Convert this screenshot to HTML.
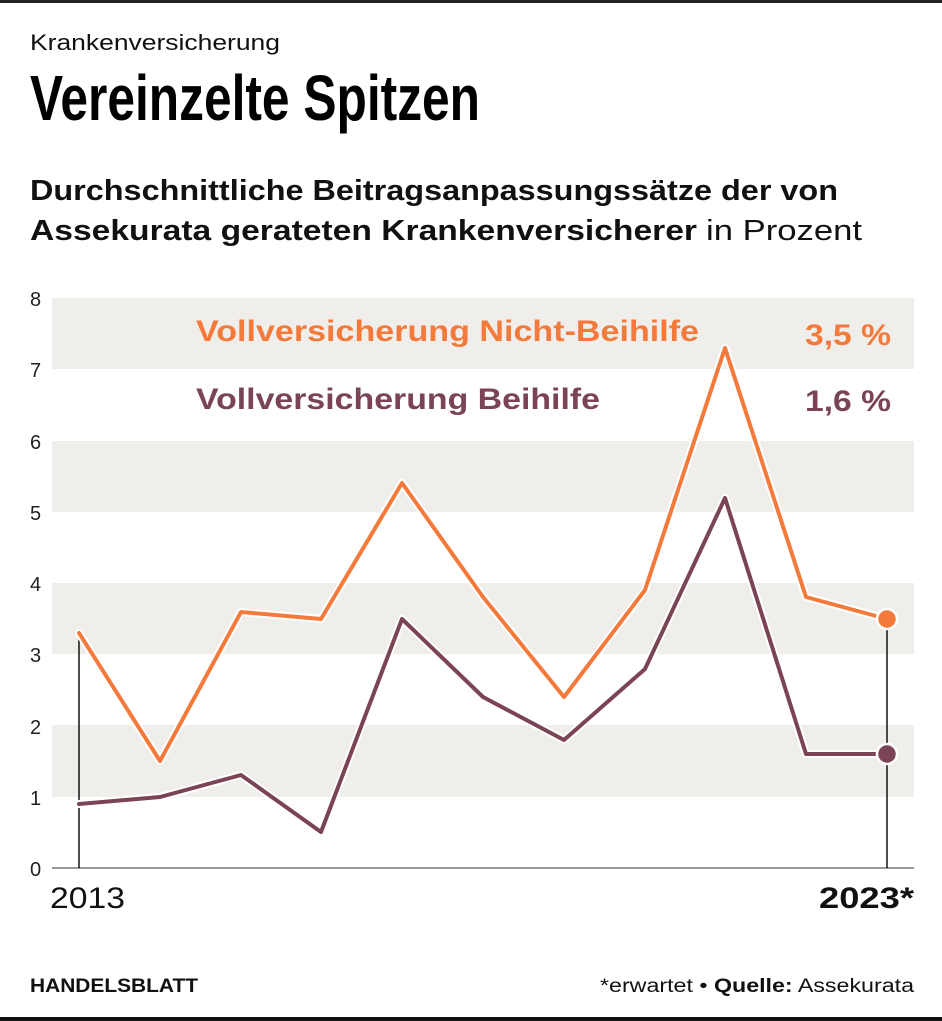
<!DOCTYPE html>
<html><head><meta charset="utf-8"><style>
html,body{margin:0;padding:0;background:#fff}
svg{display:block}
text{font-family:"Liberation Sans",sans-serif}
</style></head><body>
<svg width="942" height="1021" viewBox="0 0 942 1021" xmlns="http://www.w3.org/2000/svg">
<rect x="0" y="0" width="942" height="3" fill="#222"/>
<rect x="0" y="1017" width="942" height="4" fill="#111"/>
<text x="30" y="50" font-size="22" fill="#111" textLength="250" lengthAdjust="spacingAndGlyphs">Krankenversicherung</text>
<text x="30" y="120" font-size="64" font-weight="bold" fill="#000" textLength="450" lengthAdjust="spacingAndGlyphs" font-family="Liberation Sans Narrow, Liberation Sans, sans-serif">Vereinzelte Spitzen</text>
<text x="30" y="200" font-size="29" font-weight="bold" fill="#111" textLength="808" lengthAdjust="spacingAndGlyphs">Durchschnittliche Beitragsanpassungssätze der von</text>
<text x="30" y="240" font-size="29" font-weight="bold" fill="#111" textLength="667" lengthAdjust="spacingAndGlyphs">Assekurata gerateten Krankenversicherer</text>
<text x="706" y="240" font-size="29" fill="#111" textLength="156" lengthAdjust="spacingAndGlyphs">in Prozent</text>
<g fill="#efeeea">
<rect x="52" y="298" width="862" height="71"/>
<rect x="52" y="441" width="862" height="71"/>
<rect x="52" y="583" width="862" height="71"/>
<rect x="52" y="725" width="862" height="72"/>
</g>
<g font-size="20" fill="#222">
<text x="30" y="306">8</text><text x="30" y="377">7</text><text x="30" y="449">6</text>
<text x="30" y="520">5</text><text x="30" y="591">4</text><text x="30" y="662">3</text>
<text x="30" y="734">2</text><text x="30" y="805">1</text><text x="30" y="876">0</text>
</g>
<line x1="52" y1="868" x2="914" y2="868" stroke="#333" stroke-width="1"/>
<line x1="79" y1="632" x2="79" y2="868" stroke="#111" stroke-width="1.5"/>
<line x1="887" y1="618" x2="887" y2="868" stroke="#111" stroke-width="1.5"/>
<text x="196" y="341" font-size="30" font-weight="bold" fill="#f47a3c" textLength="503" lengthAdjust="spacingAndGlyphs">Vollversicherung Nicht-Beihilfe</text>
<text x="805" y="345" font-size="30" font-weight="bold" fill="#f47a3c" textLength="86" lengthAdjust="spacingAndGlyphs">3,5 %</text>
<text x="196" y="409" font-size="30" font-weight="bold" fill="#7b4455" textLength="404" lengthAdjust="spacingAndGlyphs">Vollversicherung Beihilfe</text>
<text x="805" y="411" font-size="30" font-weight="bold" fill="#7b4455" textLength="86" lengthAdjust="spacingAndGlyphs">1,6 %</text>
<g fill="none" stroke-linejoin="round" stroke-linecap="round">
<polyline stroke="#fff" stroke-width="8" points="79,804 160,797 241,775 321,832 402,619 483,697 564,740 645,669 725,498 806,754 887,754"/>
<polyline stroke="#7b4455" stroke-width="4" points="79,804 160,797 241,775 321,832 402,619 483,697 564,740 645,669 725,498 806,754 887,754"/>
<polyline stroke="#fff" stroke-width="8" points="79,633 160,761 241,612 321,619 402,483 483,597 564,697 645,590 725,348 806,597 887,619"/>
<polyline stroke="#f47a3c" stroke-width="4" points="79,633 160,761 241,612 321,619 402,483 483,597 564,697 645,590 725,348 806,597 887,619"/>
</g>
<circle cx="887" cy="619" r="10" fill="#f47a3c" stroke="#fff" stroke-width="2.5"/>
<circle cx="887" cy="754" r="10" fill="#7b4455" stroke="#fff" stroke-width="2.5"/>
<text x="50" y="908" font-size="30" fill="#111" textLength="75" lengthAdjust="spacingAndGlyphs">2013</text>
<text x="819" y="908" font-size="30" font-weight="bold" fill="#111" textLength="95" lengthAdjust="spacingAndGlyphs">2023*</text>
<text x="30" y="992" font-size="19" font-weight="bold" fill="#111" textLength="168" lengthAdjust="spacingAndGlyphs">HANDELSBLATT</text>
<text x="600" y="992" font-size="19" fill="#111" textLength="314" lengthAdjust="spacingAndGlyphs">*erwartet • <tspan font-weight="bold">Quelle:</tspan> Assekurata</text>
</svg>
</body></html>
